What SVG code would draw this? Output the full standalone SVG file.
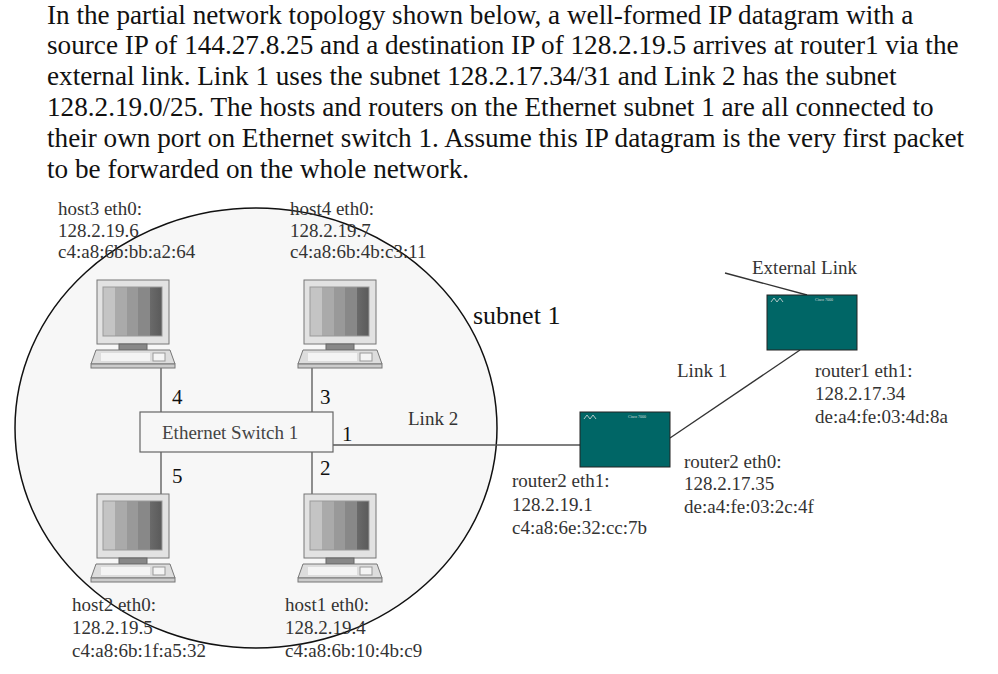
<svg xmlns="http://www.w3.org/2000/svg" width="998" height="674" viewBox="0 0 998 674">
<style>
text{font-family:"Liberation Serif","Times New Roman",serif}
.q{font-size:27.2px;fill:#111}
.l{font-size:19px;fill:#333}
.n{font-size:21px;fill:#111}
.w{stroke:#555;stroke-width:1.3;fill:none}
.r{fill:#006666;stroke:#222;stroke-width:1}
.rt{font-size:4px;fill:#ddd}
</style>
<defs>
<linearGradient id="scr" x1="0" x2="1" y1="0" y2="0">
<stop offset="0" stop-color="#c4c4c4"/><stop offset="0.2" stop-color="#c4c4c4"/>
<stop offset="0.2" stop-color="#aaa"/><stop offset="0.4" stop-color="#aaa"/>
<stop offset="0.4" stop-color="#999"/><stop offset="0.6" stop-color="#999"/>
<stop offset="0.6" stop-color="#888"/><stop offset="0.8" stop-color="#888"/>
<stop offset="0.8" stop-color="#6a6a6a"/><stop offset="1" stop-color="#5a5a5a"/>
</linearGradient>
<g id="pc">
<rect x="0" y="0" width="72" height="64" fill="#e2e2e2" stroke="#777"/>
<rect x="6" y="7" width="59" height="49" fill="url(#scr)" stroke="#999"/>
<rect x="22" y="64" width="28" height="6" fill="#888" stroke="#666"/>
<polygon points="-1,70 73,70 78,84 -6,84" fill="#ddd" stroke="#777"/>
<rect x="-6" y="84" width="84" height="4" fill="#ccc" stroke="#777"/>
<rect x="56" y="73" width="12" height="8" fill="#f4f4f4" stroke="#999"/>
<rect x="4" y="73" width="49" height="8" fill="#f4f4f4"/>
</g>
<g id="rtr">
<rect class="r" x="0" y="0" width="90" height="55"/>
<text class="rt" x="48" y="6">Cisco 7000</text>
<path d="M4,7 l3,-4 l3,4 l3,-4 l3,4" stroke="#ddd" fill="none" stroke-width="0.8"/>
</g>
</defs>
<rect width="998" height="674" fill="#fff"/>
<g id="question">
<text class="q" x="47" y="24">In the partial network topology shown below, a well-formed IP datagram with a</text>
<text class="q" x="47" y="54">source IP of 144.27.8.25 and a destination IP of 128.2.19.5 arrives at router1 via the</text>
<text class="q" x="47" y="85">external link. Link 1 uses the subnet 128.2.17.34/31 and Link 2 has the subnet</text>
<text class="q" x="47" y="116">128.2.19.0/25. The hosts and routers on the Ethernet subnet 1 are all connected to</text>
<text class="q" x="47" y="147">their own port on Ethernet switch 1. Assume this IP datagram is the very first packet</text>
<text class="q" x="47" y="178">to be forwarded on the whole network.</text>
</g>
<g id="subnet1">
<ellipse cx="256" cy="428" rx="241" ry="220" fill="#f7f7f7" stroke="#111" stroke-width="1.5"/>
<text x="473" y="324" style="font-size:26px;fill:#111">subnet 1</text>
</g>
<g id="connectors">
<line class="w" x1="161" y1="368" x2="161" y2="412"/>
<line class="w" x1="312" y1="368" x2="312" y2="412"/>
<line class="w" x1="161" y1="452" x2="161" y2="494"/>
<line class="w" x1="312" y1="452" x2="312" y2="494"/>
<line class="w" x1="333" y1="445" x2="580" y2="445"/>
<line x1="670" y1="438" x2="800" y2="350" stroke="#333" stroke-width="1.3"/>
<line x1="725" y1="273" x2="807" y2="295" stroke="#333" stroke-width="1.3"/>
</g>
<g id="switch1">
<rect x="140" y="412" width="193" height="40" fill="#f7f7f7" stroke="#666" stroke-width="1.2"/>
<text x="162" y="439" style="font-size:19px;fill:#444">Ethernet Switch 1</text>
<text class="n" x="172" y="404">4</text>
<text class="n" x="320" y="404">3</text>
<text class="n" x="342" y="441">1</text>
<text class="n" x="172" y="483">5</text>
<text class="n" x="320" y="475">2</text>
<text class="l" x="408" y="425">Link 2</text>
</g>
<g id="host3"><use href="#pc" x="97" y="280"/>
<text class="l" x="58" y="215">host3 eth0:</text><text class="l" x="58" y="237">128.2.19.6</text><text class="l" x="58" y="258">c4:a8:6b:bb:a2:64</text></g>
<g id="host4"><use href="#pc" x="304" y="280"/>
<text class="l" x="290" y="215">host4 eth0:</text><text class="l" x="290" y="237">128.2.19.7</text><text class="l" x="290" y="258">c4:a8:6b:4b:c3:11</text></g>
<g id="host2"><use href="#pc" x="97" y="494"/>
<text class="l" x="72" y="611">host2 eth0:</text><text class="l" x="72" y="634">128.2.19.5</text><text class="l" x="72" y="657">c4:a8:6b:1f:a5:32</text></g>
<g id="host1"><use href="#pc" x="304" y="494"/>
<text class="l" x="285" y="611">host1 eth0:</text><text class="l" x="285" y="634">128.2.19.4</text><text class="l" x="285" y="657">c4:a8:6b:10:4b:c9</text></g>
<g id="router1"><use href="#rtr" x="767" y="295"/>
<text class="l" x="752" y="274">External Link</text>
<text class="l" x="677" y="377">Link 1</text>
<text class="l" x="815" y="377">router1 eth1:</text><text class="l" x="815" y="400">128.2.17.34</text><text class="l" x="815" y="423">de:a4:fe:03:4d:8a</text></g>
<g id="router2"><use href="#rtr" x="580" y="412"/>
<text class="l" x="684" y="468">router2 eth0:</text><text class="l" x="684" y="490">128.2.17.35</text><text class="l" x="684" y="513">de:a4:fe:03:2c:4f</text>
<text class="l" x="512" y="487">router2 eth1:</text><text class="l" x="512" y="511">128.2.19.1</text><text class="l" x="512" y="534">c4:a8:6e:32:cc:7b</text></g>
</svg>
